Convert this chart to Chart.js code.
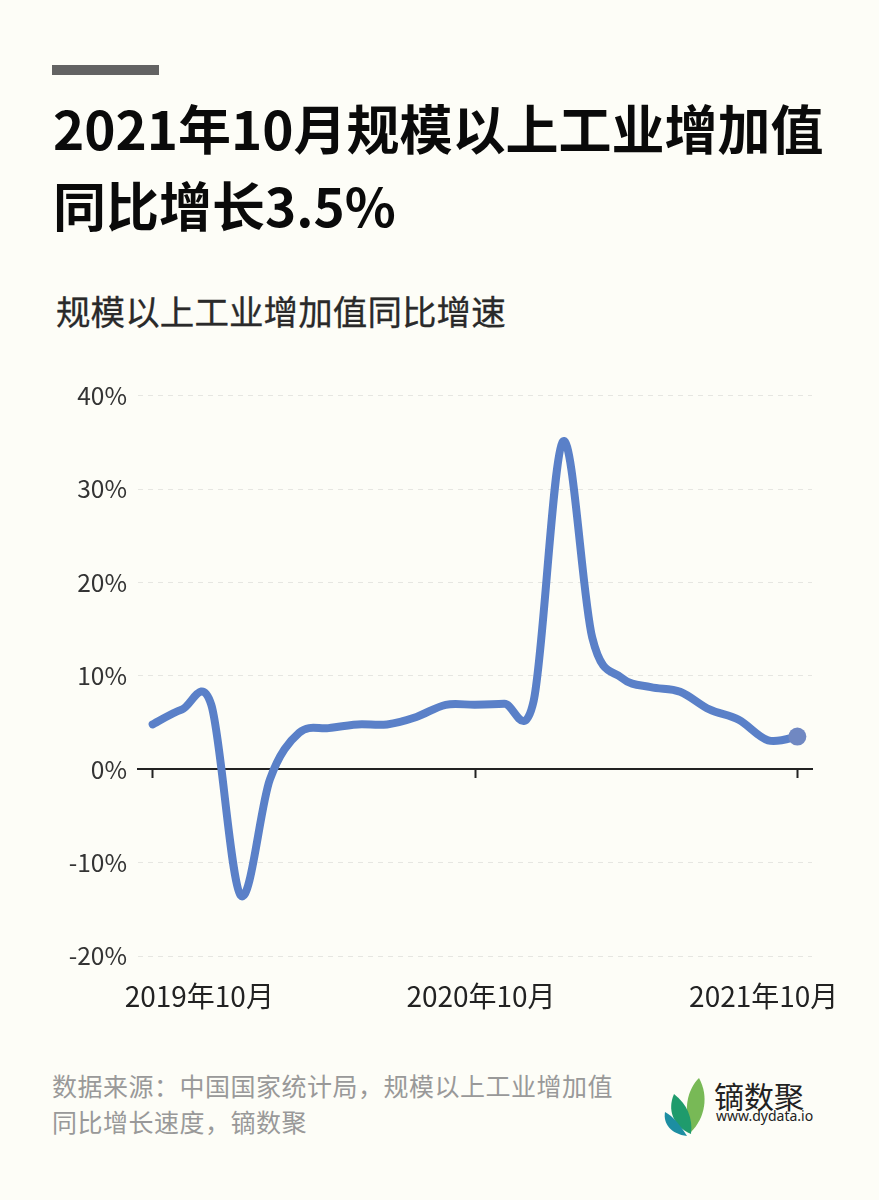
<!DOCTYPE html>
<html>
<head>
<meta charset="utf-8">
<script src="https://cdn.jsdelivr.net/npm/chart.js@4"></script>
<style>
html,body{margin:0;padding:0;background:#fdfdf7;}
body{width:879px;height:1200px;position:relative;overflow:hidden;font-family:"Noto Sans CJK SC",sans-serif;}
.bar{position:absolute;left:52px;top:65px;width:107px;height:10px;background:#636363;}
.title{position:absolute;left:53px;top:89px;font-size:53px;font-weight:700;line-height:77px;color:#0a0a0a;white-space:nowrap;}
.sub{position:absolute;left:56px;top:293px;font-size:34.5px;line-height:34px;color:#2a2a2a;white-space:nowrap;letter-spacing:0.1px;-webkit-text-stroke:0.3px #2a2a2a;}
.foot{position:absolute;left:52px;top:1067px;font-size:25px;line-height:36px;color:#999;letter-spacing:0.5px;white-space:nowrap;}
.brand{position:absolute;left:714px;top:1080px;font-size:30px;line-height:30px;color:#222;white-space:nowrap;}
.url{position:absolute;left:716px;top:1109px;font-family:"Noto Sans",sans-serif;font-size:14px;line-height:14px;color:#222;white-space:nowrap;}
#logo{position:absolute;left:663px;top:1078px;}
#c{position:absolute;left:0;top:370px;}
</style>
</head>
<body>
<div class="bar"></div>
<div class="title">2021年10月规模以上工业增加值<br>同比增长3.5%</div>
<div class="sub">规模以上工业增加值同比增速</div>
<canvas id="c" width="879" height="660"></canvas>
<div class="foot">数据来源：中国国家统计局，规模以上工业增加值<br>同比增长速度，镝数聚</div>
<svg id="logo" width="46" height="60" viewBox="0 0 46 60">
  <path d="M36 0 C24 12 20 32 28 54 C42 40 46 18 36 0 Z" fill="#78b956"/>
  <path d="M11 16 C4 32 10 48 28 56 C30 40 24 26 11 16 Z" fill="#1f9b6c"/>
  <path d="M2 34 C0 46 8 56 24 58 C17 47 11 39 2 34 Z" fill="#1d8ea2"/>
</svg>
<div class="brand">镝数聚</div>
<div class="url">www.dydata.io</div>
<script>
const categories = ['2019年10月','2019年11月','2019年12月','2020年2月','2020年3月','2020年4月','2020年5月','2020年6月','2020年7月','2020年8月','2020年9月','2020年10月','2020年11月','2020年12月','2021年2月','2021年3月','2021年4月','2021年5月','2021年6月','2021年7月','2021年8月','2021年9月','2021年10月'];
const growth = [4.8, 6.4, 6.9, -13.5, -1.1, 3.9, 4.4, 4.8, 4.8, 5.6, 6.9, 6.9, 7.0, 7.3, 35.1, 14.1, 9.8, 8.8, 8.3, 6.4, 5.3, 3.1, 3.5];
const xTickLabels = ['2019年10月','2020年10月','2021年10月'];
const yTicks = [-20, -10, 0, 10, 20, 30, 40];

Chart.defaults.font.family = '"Noto Sans CJK SC", sans-serif';

// uniform Catmull-Rom smoothing computed from the library's own point pixels
const smoothPlugin = {
  id: 'smooth',
  beforeDatasetDraw(chart, args) {
    const meta = args.meta;
    const pts = meta.data;
    const n = pts.length;
    for (let i = 0; i < n; i++) {
      const p = pts[i], prev = pts[Math.max(i - 1, 0)], next = pts[Math.min(i + 1, n - 1)];
      const dx = (next.x - prev.x) / 6, dy = (next.y - prev.y) / 6;
      p.cp1x = p.x - dx; p.cp1y = p.y - dy;
      p.cp2x = p.x + dx; p.cp2y = p.y + dy;
    }
    meta.dataset._pointsUpdated = true;
    meta.dataset._path = undefined;
  }
};

const xLabelPlugin = {
  id: 'xLabels',
  afterDraw(chart) {
    const {ctx, chartArea} = chart;
    const x = chart.scales.x;
    ctx.save();
    ctx.font = '28px "Noto Sans CJK SC"';
    ctx.fillStyle = '#222';
    ctx.textBaseline = 'alphabetic';
    const aligns = ['left', 'center', 'right'];
    const shifts = [-28, 6, 41];
    x.ticks.forEach((t, i) => {
      const px = x.getPixelForTick(i);
      ctx.textAlign = aligns[i];
      ctx.fillText(xTickLabels[i], px + shifts[i], chartArea.bottom + 51);
    });
    ctx.restore();
  }
};

new Chart(document.getElementById('c'), {
  type: 'line',
  data: {
    labels: categories,
    datasets: [{
      data: growth,
      borderColor: '#5a80c8',
      borderWidth: 8,
      borderCapStyle: 'round',
      borderJoinStyle: 'round',
      tension: 0.4,
      fill: false,
      pointRadius: c => c.dataIndex === growth.length - 1 ? 9 : 0,
      pointHoverRadius: 0,
      pointBackgroundColor: '#7088c2',
      pointBorderWidth: 0
    }]
  },
  options: {
    responsive: false,
    animation: false,
    events: [],
    layout: {padding: {top: 23, left: 0, right: 67, bottom: 74}},
    plugins: {legend: {display: false}, tooltip: {enabled: false}},
    scales: {
      x: {
        type: 'category',
        offset: true,
        position: {y: 0},
        afterBuildTicks: s => { s.ticks = s.ticks.filter(t => xTickLabels.includes(categories[t.value])); },
        afterFit: s => { s.height = 0; },
        ticks: {display: false, autoSkip: false},
        grid: {drawOnChartArea: false, drawTicks: true, tickLength: 8, tickWidth: 2, tickColor: '#222', color: '#222'},
        border: {display: true, color: '#222', width: 2}
      },
      y: {
        min: -20,
        max: 40,
        afterBuildTicks: s => { s.ticks = yTicks.map(v => ({value: v})); },
        afterFit: s => { s.width = 138; },
        ticks: {
          callback: v => v + '%',
          font: {size: 24.5},
          color: '#333',
          padding: 11
        },
        grid: {
          drawTicks: false,
          lineWidth: 1,
          color: c => c.tick && c.tick.value === 0 ? 'rgba(0,0,0,0)' : '#e6e6e1'
        },
        border: {display: false, dash: [5, 5]}
      }
    }
  },
  plugins: [smoothPlugin, xLabelPlugin]
});
</script>
</body>
</html>
